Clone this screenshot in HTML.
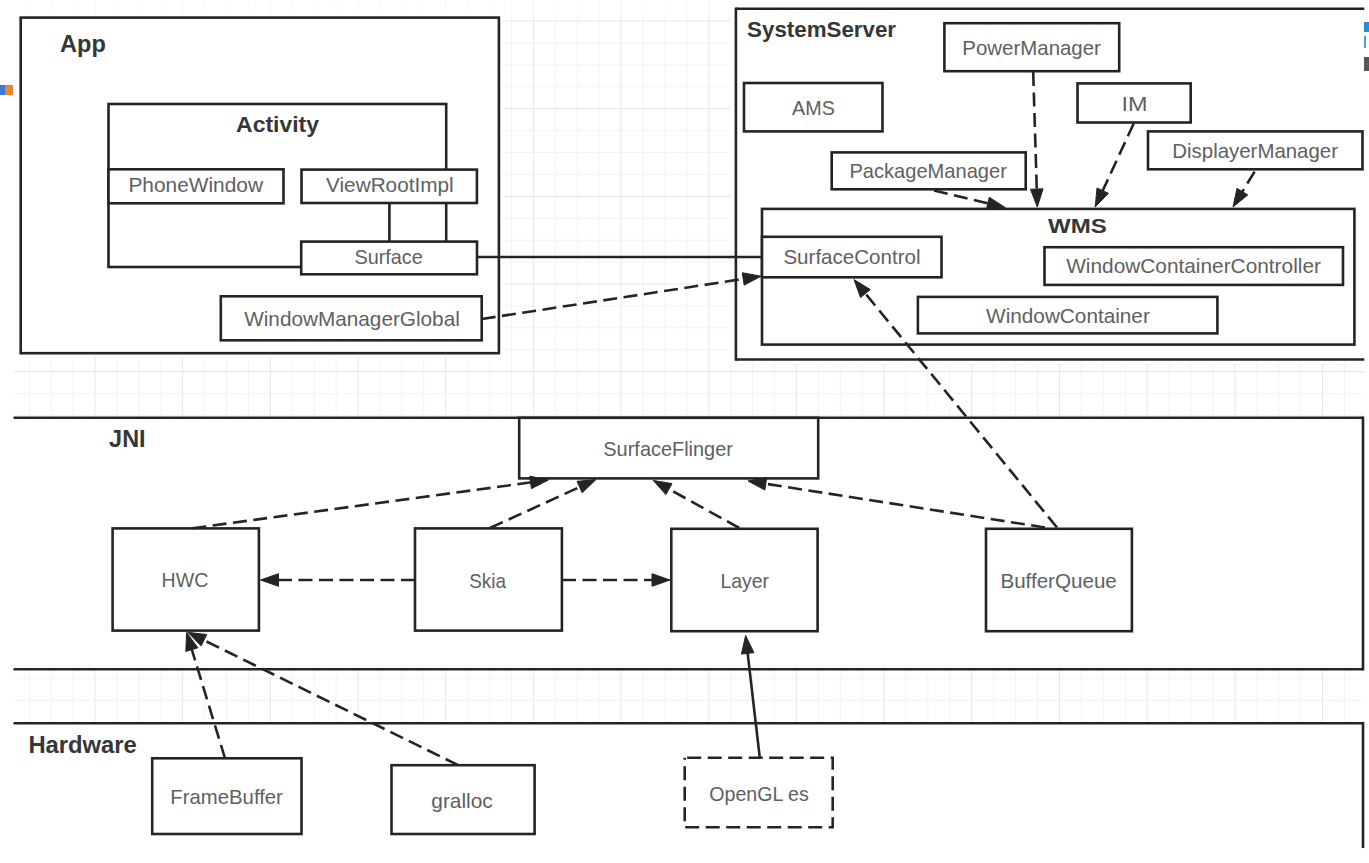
<!DOCTYPE html>
<html><head><meta charset="utf-8"><title>diagram</title>
<style>html,body{margin:0;padding:0;background:#fff;width:1369px;height:863px;overflow:hidden;}
svg{display:block;font-family:"Liberation Sans",sans-serif;}</style></head>
<body><svg width="1369" height="863" viewBox="0 0 1369 863" font-family="Liberation Sans, sans-serif"><g stroke="#f3f3f3" stroke-width="1"><line x1="29.22" y1="0" x2="29.22" y2="863"/><line x1="51.14" y1="0" x2="51.14" y2="863"/><line x1="73.06" y1="0" x2="73.06" y2="863"/><line x1="116.90" y1="0" x2="116.90" y2="863"/><line x1="138.82" y1="0" x2="138.82" y2="863"/><line x1="160.74" y1="0" x2="160.74" y2="863"/><line x1="204.58" y1="0" x2="204.58" y2="863"/><line x1="226.50" y1="0" x2="226.50" y2="863"/><line x1="248.42" y1="0" x2="248.42" y2="863"/><line x1="292.26" y1="0" x2="292.26" y2="863"/><line x1="314.18" y1="0" x2="314.18" y2="863"/><line x1="336.10" y1="0" x2="336.10" y2="863"/><line x1="379.94" y1="0" x2="379.94" y2="863"/><line x1="401.86" y1="0" x2="401.86" y2="863"/><line x1="423.78" y1="0" x2="423.78" y2="863"/><line x1="467.62" y1="0" x2="467.62" y2="863"/><line x1="489.54" y1="0" x2="489.54" y2="863"/><line x1="511.46" y1="0" x2="511.46" y2="863"/><line x1="555.30" y1="0" x2="555.30" y2="863"/><line x1="577.22" y1="0" x2="577.22" y2="863"/><line x1="599.14" y1="0" x2="599.14" y2="863"/><line x1="642.98" y1="0" x2="642.98" y2="863"/><line x1="664.90" y1="0" x2="664.90" y2="863"/><line x1="686.82" y1="0" x2="686.82" y2="863"/><line x1="730.66" y1="0" x2="730.66" y2="863"/><line x1="752.58" y1="0" x2="752.58" y2="863"/><line x1="774.50" y1="0" x2="774.50" y2="863"/><line x1="818.34" y1="0" x2="818.34" y2="863"/><line x1="840.26" y1="0" x2="840.26" y2="863"/><line x1="862.18" y1="0" x2="862.18" y2="863"/><line x1="906.02" y1="0" x2="906.02" y2="863"/><line x1="927.94" y1="0" x2="927.94" y2="863"/><line x1="949.86" y1="0" x2="949.86" y2="863"/><line x1="993.70" y1="0" x2="993.70" y2="863"/><line x1="1015.62" y1="0" x2="1015.62" y2="863"/><line x1="1037.54" y1="0" x2="1037.54" y2="863"/><line x1="1081.38" y1="0" x2="1081.38" y2="863"/><line x1="1103.30" y1="0" x2="1103.30" y2="863"/><line x1="1125.22" y1="0" x2="1125.22" y2="863"/><line x1="1169.06" y1="0" x2="1169.06" y2="863"/><line x1="1190.98" y1="0" x2="1190.98" y2="863"/><line x1="1212.90" y1="0" x2="1212.90" y2="863"/><line x1="1256.74" y1="0" x2="1256.74" y2="863"/><line x1="1278.66" y1="0" x2="1278.66" y2="863"/><line x1="1300.58" y1="0" x2="1300.58" y2="863"/><line x1="1344.42" y1="0" x2="1344.42" y2="863"/><line x1="1366.34" y1="0" x2="1366.34" y2="863"/><line x1="14" y1="-0.92" x2="1369" y2="-0.92"/><line x1="14" y1="42.92" x2="1369" y2="42.92"/><line x1="14" y1="64.84" x2="1369" y2="64.84"/><line x1="14" y1="86.76" x2="1369" y2="86.76"/><line x1="14" y1="130.60" x2="1369" y2="130.60"/><line x1="14" y1="152.52" x2="1369" y2="152.52"/><line x1="14" y1="174.44" x2="1369" y2="174.44"/><line x1="14" y1="218.28" x2="1369" y2="218.28"/><line x1="14" y1="240.20" x2="1369" y2="240.20"/><line x1="14" y1="262.12" x2="1369" y2="262.12"/><line x1="14" y1="305.96" x2="1369" y2="305.96"/><line x1="14" y1="327.88" x2="1369" y2="327.88"/><line x1="14" y1="349.80" x2="1369" y2="349.80"/><line x1="14" y1="393.64" x2="1369" y2="393.64"/><line x1="14" y1="415.56" x2="1369" y2="415.56"/><line x1="14" y1="437.48" x2="1369" y2="437.48"/><line x1="14" y1="481.32" x2="1369" y2="481.32"/><line x1="14" y1="503.24" x2="1369" y2="503.24"/><line x1="14" y1="525.16" x2="1369" y2="525.16"/><line x1="14" y1="569.00" x2="1369" y2="569.00"/><line x1="14" y1="590.92" x2="1369" y2="590.92"/><line x1="14" y1="612.84" x2="1369" y2="612.84"/><line x1="14" y1="656.68" x2="1369" y2="656.68"/><line x1="14" y1="678.60" x2="1369" y2="678.60"/><line x1="14" y1="700.52" x2="1369" y2="700.52"/><line x1="14" y1="744.36" x2="1369" y2="744.36"/><line x1="14" y1="766.28" x2="1369" y2="766.28"/><line x1="14" y1="788.20" x2="1369" y2="788.20"/><line x1="14" y1="832.04" x2="1369" y2="832.04"/><line x1="14" y1="853.96" x2="1369" y2="853.96"/></g><g stroke="#e6e6e6" stroke-width="1"><line x1="94.98" y1="0" x2="94.98" y2="863"/><line x1="182.66" y1="0" x2="182.66" y2="863"/><line x1="270.34" y1="0" x2="270.34" y2="863"/><line x1="358.02" y1="0" x2="358.02" y2="863"/><line x1="445.70" y1="0" x2="445.70" y2="863"/><line x1="533.38" y1="0" x2="533.38" y2="863"/><line x1="621.06" y1="0" x2="621.06" y2="863"/><line x1="708.74" y1="0" x2="708.74" y2="863"/><line x1="796.42" y1="0" x2="796.42" y2="863"/><line x1="884.10" y1="0" x2="884.10" y2="863"/><line x1="971.78" y1="0" x2="971.78" y2="863"/><line x1="1059.46" y1="0" x2="1059.46" y2="863"/><line x1="1147.14" y1="0" x2="1147.14" y2="863"/><line x1="1234.82" y1="0" x2="1234.82" y2="863"/><line x1="1322.50" y1="0" x2="1322.50" y2="863"/><line x1="14" y1="21.00" x2="1369" y2="21.00"/><line x1="14" y1="108.68" x2="1369" y2="108.68"/><line x1="14" y1="196.36" x2="1369" y2="196.36"/><line x1="14" y1="284.04" x2="1369" y2="284.04"/><line x1="14" y1="371.72" x2="1369" y2="371.72"/><line x1="14" y1="459.40" x2="1369" y2="459.40"/><line x1="14" y1="547.08" x2="1369" y2="547.08"/><line x1="14" y1="634.76" x2="1369" y2="634.76"/><line x1="14" y1="722.44" x2="1369" y2="722.44"/><line x1="14" y1="810.12" x2="1369" y2="810.12"/></g>
<rect x="0" y="0" width="20" height="357" fill="#fff"/>
<rect x="736" y="0" width="640" height="9" fill="#fff"/>
<rect x="20" y="0" width="716" height="16" fill="#fff" fill-opacity="0.55"/>
<rect x="1364" y="357" width="10" height="510" fill="#fff"/>
<rect x="16" y="13" width="487.5" height="344" fill="#fff"/>
<rect x="730.5" y="0" width="640" height="363.5" fill="#fff"/>
<rect x="13.5" y="417.8" width="1349.1" height="251.40000000000003" fill="#fff"/>
<rect x="13.5" y="723.2" width="1349.1" height="144.79999999999995" fill="#fff"/>
<rect x="735.9" y="8.8" width="638.1" height="350.7" fill="#fff"/>
<rect x="20.70" y="17.60" width="478.20" height="335.60" fill="#fff" stroke="#242424" stroke-width="2.6"/>
<text x="60.08" y="52.30" font-size="23" font-weight="bold" fill="#363636" textLength="45.76" lengthAdjust="spacingAndGlyphs">App</text>
<rect x="108.50" y="104.00" width="337.70" height="163.00" fill="#fff" stroke="#242424" stroke-width="2.6"/>
<text x="236.08" y="132.40" font-size="22" font-weight="bold" fill="#363636" textLength="82.84" lengthAdjust="spacingAndGlyphs">Activity</text>
<rect x="108.50" y="169.30" width="175.00" height="34.00" fill="#fff" stroke="#242424" stroke-width="2.6"/>
<text x="128.44" y="192.30" font-size="21" font-weight="normal" fill="#606060" textLength="134.58" lengthAdjust="spacingAndGlyphs">PhoneWindow</text>
<rect x="301.50" y="169.60" width="175.40" height="33.40" fill="#fff" stroke="#242424" stroke-width="2.6"/>
<text x="326.06" y="192.30" font-size="21" font-weight="normal" fill="#606060" textLength="127.60" lengthAdjust="spacingAndGlyphs">ViewRootImpl</text>
<line x1="389.40" y1="203.00" x2="389.40" y2="241.60" stroke="#242424" stroke-width="2.6"/>
<rect x="301.20" y="241.60" width="175.80" height="32.70" fill="#fff" stroke="#242424" stroke-width="2.6"/>
<text x="354.40" y="264.30" font-size="21" font-weight="normal" fill="#606060" textLength="68.40" lengthAdjust="spacingAndGlyphs">Surface</text>
<rect x="220.80" y="296.30" width="260.90" height="44.00" fill="#fff" stroke="#242424" stroke-width="2.6"/>
<text x="244.18" y="325.50" font-size="21" font-weight="normal" fill="#606060" textLength="215.62" lengthAdjust="spacingAndGlyphs">WindowManagerGlobal</text>
<line x1="735.90" y1="8.80" x2="1364.30" y2="8.80" stroke="#242424" stroke-width="2.6"/>
<line x1="735.90" y1="7.50" x2="735.90" y2="360.80" stroke="#242424" stroke-width="2.6"/>
<line x1="735.90" y1="359.50" x2="1364.30" y2="359.50" stroke="#242424" stroke-width="2.6"/>
<text x="747.12" y="37.30" font-size="22.5" font-weight="bold" fill="#363636" textLength="148.88" lengthAdjust="spacingAndGlyphs">SystemServer</text>
<rect x="744.00" y="83.00" width="138.50" height="48.40" fill="#fff" stroke="#242424" stroke-width="2.6"/>
<text x="792.10" y="115.00" font-size="21" font-weight="normal" fill="#606060" textLength="42.70" lengthAdjust="spacingAndGlyphs">AMS</text>
<rect x="944.40" y="23.20" width="174.80" height="48.00" fill="#fff" stroke="#242424" stroke-width="2.6"/>
<text x="962.34" y="55.40" font-size="21" font-weight="normal" fill="#606060" textLength="138.58" lengthAdjust="spacingAndGlyphs">PowerManager</text>
<rect x="1077.50" y="83.40" width="113.20" height="39.10" fill="#fff" stroke="#242424" stroke-width="2.6"/>
<text x="1121.48" y="110.60" font-size="21" font-weight="normal" fill="#606060" textLength="26.02" lengthAdjust="spacingAndGlyphs">IM</text>
<rect x="831.70" y="152.40" width="194.00" height="36.90" fill="#fff" stroke="#242424" stroke-width="2.6"/>
<text x="849.38" y="178.10" font-size="21" font-weight="normal" fill="#606060" textLength="157.50" lengthAdjust="spacingAndGlyphs">PackageManager</text>
<rect x="1148.00" y="131.40" width="214.50" height="37.90" fill="#fff" stroke="#242424" stroke-width="2.6"/>
<text x="1172.34" y="157.80" font-size="21" font-weight="normal" fill="#606060" textLength="165.66" lengthAdjust="spacingAndGlyphs">DisplayerManager</text>
<rect x="762.00" y="208.90" width="592.40" height="135.70" fill="#fff" stroke="#242424" stroke-width="2.6"/>
<text x="1048.10" y="232.90" font-size="20" font-weight="bold" fill="#363636" textLength="58.68" lengthAdjust="spacingAndGlyphs">WMS</text>
<rect x="762.00" y="236.80" width="179.50" height="40.50" fill="#fff" stroke="#242424" stroke-width="2.6"/>
<text x="783.38" y="264.20" font-size="21" font-weight="normal" fill="#606060" textLength="137.18" lengthAdjust="spacingAndGlyphs">SurfaceControl</text>
<rect x="1044.50" y="247.20" width="298.50" height="37.70" fill="#fff" stroke="#242424" stroke-width="2.6"/>
<text x="1066.16" y="273.30" font-size="21" font-weight="normal" fill="#606060" textLength="254.78" lengthAdjust="spacingAndGlyphs">WindowContainerController</text>
<rect x="917.90" y="296.90" width="299.50" height="36.50" fill="#fff" stroke="#242424" stroke-width="2.6"/>
<text x="986.08" y="322.70" font-size="21" font-weight="normal" fill="#606060" textLength="163.74" lengthAdjust="spacingAndGlyphs">WindowContainer</text>
<line x1="934.00" y1="190.50" x2="988.77" y2="203.64" stroke="#242424" stroke-width="2.6" stroke-dasharray="14 6.5"/>
<path d="M1005.30,207.60 L986.33,209.53 L989.27,197.28 Z" fill="#242424" stroke="#242424" stroke-width="1" stroke-linejoin="miter"/>
<line x1="1033.20" y1="72.00" x2="1036.78" y2="190.01" stroke="#242424" stroke-width="2.6" stroke-dasharray="14 6.5"/>
<path d="M1037.30,207.00 L1030.46,189.20 L1043.05,188.82 Z" fill="#242424" stroke="#242424" stroke-width="1" stroke-linejoin="miter"/>
<line x1="1133.70" y1="123.50" x2="1102.32" y2="191.56" stroke="#242424" stroke-width="2.6" stroke-dasharray="14 6.5"/>
<path d="M1095.20,207.00 L1097.02,188.02 L1108.46,193.29 Z" fill="#242424" stroke="#242424" stroke-width="1" stroke-linejoin="miter"/>
<line x1="1254.60" y1="171.60" x2="1241.85" y2="192.49" stroke="#242424" stroke-width="2.6" stroke-dasharray="14 6.5"/>
<path d="M1233.00,207.00 L1237.00,188.35 L1247.75,194.92 Z" fill="#242424" stroke="#242424" stroke-width="1" stroke-linejoin="miter"/>
<line x1="13.50" y1="417.80" x2="1363.00" y2="417.80" stroke="#242424" stroke-width="2.6"/>
<line x1="13.50" y1="669.20" x2="1363.00" y2="669.20" stroke="#242424" stroke-width="2.6"/>
<line x1="1363.00" y1="416.50" x2="1363.00" y2="670.50" stroke="#242424" stroke-width="2.6"/>
<text x="109.12" y="447.00" font-size="23.5" font-weight="bold" fill="#363636" textLength="36.48" lengthAdjust="spacingAndGlyphs">JNI</text>
<rect x="519.20" y="417.80" width="299.00" height="60.60" fill="#fff" stroke="#242424" stroke-width="2.6"/>
<text x="603.34" y="456.00" font-size="21" font-weight="normal" fill="#606060" textLength="129.60" lengthAdjust="spacingAndGlyphs">SurfaceFlinger</text>
<rect x="112.60" y="528.40" width="146.30" height="102.20" fill="#fff" stroke="#242424" stroke-width="2.6"/>
<text x="161.54" y="587.40" font-size="21" font-weight="normal" fill="#606060" textLength="46.74" lengthAdjust="spacingAndGlyphs">HWC</text>
<rect x="415.00" y="528.40" width="146.90" height="102.20" fill="#fff" stroke="#242424" stroke-width="2.6"/>
<text x="469.24" y="587.60" font-size="21" font-weight="normal" fill="#606060" textLength="36.70" lengthAdjust="spacingAndGlyphs">Skia</text>
<rect x="671.30" y="528.80" width="146.30" height="102.40" fill="#fff" stroke="#242424" stroke-width="2.6"/>
<text x="720.44" y="587.70" font-size="21" font-weight="normal" fill="#606060" textLength="48.64" lengthAdjust="spacingAndGlyphs">Layer</text>
<rect x="986.00" y="528.80" width="145.90" height="102.40" fill="#fff" stroke="#242424" stroke-width="2.6"/>
<text x="1000.40" y="588.00" font-size="21" font-weight="normal" fill="#606060" textLength="116.40" lengthAdjust="spacingAndGlyphs">BufferQueue</text>
<line x1="192.30" y1="528.30" x2="531.55" y2="482.28" stroke="#242424" stroke-width="2.6" stroke-dasharray="14 6.5"/>
<path d="M548.40,480.00 L531.41,488.66 L529.72,476.18 Z" fill="#242424" stroke="#242424" stroke-width="1" stroke-linejoin="miter"/>
<line x1="490.00" y1="528.00" x2="580.54" y2="486.66" stroke="#242424" stroke-width="2.6" stroke-dasharray="14 6.5"/>
<path d="M596.00,479.60 L582.24,492.81 L577.01,481.35 Z" fill="#242424" stroke="#242424" stroke-width="1" stroke-linejoin="miter"/>
<line x1="739.30" y1="528.00" x2="668.08" y2="488.63" stroke="#242424" stroke-width="2.6" stroke-dasharray="14 6.5"/>
<path d="M653.20,480.40 L672.00,483.60 L665.90,494.62 Z" fill="#242424" stroke="#242424" stroke-width="1" stroke-linejoin="miter"/>
<line x1="1045.00" y1="527.50" x2="764.80" y2="483.63" stroke="#242424" stroke-width="2.6" stroke-dasharray="14 6.5"/>
<path d="M748.00,481.00 L766.76,477.56 L764.81,490.01 Z" fill="#242424" stroke="#242424" stroke-width="1" stroke-linejoin="miter"/>
<line x1="415.00" y1="580.00" x2="277.50" y2="580.00" stroke="#242424" stroke-width="2.6" stroke-dasharray="14 6.5"/>
<path d="M260.50,580.00 L278.50,573.70 L278.50,586.30 Z" fill="#242424" stroke="#242424" stroke-width="1" stroke-linejoin="miter"/>
<line x1="562.00" y1="580.00" x2="653.00" y2="580.00" stroke="#242424" stroke-width="2.6" stroke-dasharray="14 6.5"/>
<path d="M670.00,580.00 L652.00,586.30 L652.00,573.70 Z" fill="#242424" stroke="#242424" stroke-width="1" stroke-linejoin="miter"/>
<line x1="13.50" y1="723.20" x2="1363.00" y2="723.20" stroke="#242424" stroke-width="2.6"/>
<line x1="1363.00" y1="721.90" x2="1363.00" y2="848.00" stroke="#242424" stroke-width="2.6"/>
<text x="28.40" y="752.60" font-size="24" font-weight="bold" fill="#363636" textLength="108.46" lengthAdjust="spacingAndGlyphs">Hardware</text>
<rect x="152.20" y="758.30" width="149.30" height="75.70" fill="#fff" stroke="#242424" stroke-width="2.6"/>
<text x="170.36" y="804.00" font-size="21" font-weight="normal" fill="#606060" textLength="112.50" lengthAdjust="spacingAndGlyphs">FrameBuffer</text>
<rect x="391.50" y="765.20" width="143.10" height="68.80" fill="#fff" stroke="#242424" stroke-width="2.6"/>
<text x="431.28" y="808.20" font-size="21" font-weight="normal" fill="#606060" textLength="61.54" lengthAdjust="spacingAndGlyphs">gralloc</text>
<rect x="684.70" y="757.80" width="148.00" height="69.50" fill="#fff" stroke="#242424" stroke-width="2.6" stroke-dasharray="14 6.5" stroke-dashoffset="-2.5"/>
<text x="709.24" y="800.50" font-size="21" font-weight="normal" fill="#606060" textLength="99.56" lengthAdjust="spacingAndGlyphs">OpenGL es</text>
<line x1="225.00" y1="758.30" x2="191.56" y2="648.66" stroke="#242424" stroke-width="2.6" stroke-dasharray="14 6.5"/>
<path d="M186.60,632.40 L197.88,647.78 L185.83,651.45 Z" fill="#242424" stroke="#242424" stroke-width="1" stroke-linejoin="miter"/>
<line x1="458.20" y1="765.20" x2="203.06" y2="639.80" stroke="#242424" stroke-width="2.6" stroke-dasharray="14 6.5"/>
<path d="M187.80,632.30 L206.73,634.59 L201.18,645.89 Z" fill="#242424" stroke="#242424" stroke-width="1" stroke-linejoin="miter"/>
<line x1="759.70" y1="757.20" x2="747.56" y2="652.39" stroke="#242424" stroke-width="2.6"/>
<path d="M745.60,635.50 L753.93,652.66 L741.41,654.11 Z" fill="#242424" stroke="#242424" stroke-width="1" stroke-linejoin="miter"/>
<line x1="477.00" y1="257.00" x2="762.00" y2="257.00" stroke="#242424" stroke-width="2.6"/>
<line x1="481.70" y1="319.00" x2="744.20" y2="278.78" stroke="#242424" stroke-width="2.6" stroke-dasharray="14 6.5"/>
<path d="M761.00,276.20 L744.16,285.15 L742.25,272.70 Z" fill="#242424" stroke="#242424" stroke-width="1" stroke-linejoin="miter"/>
<line x1="1057.00" y1="527.50" x2="864.77" y2="292.75" stroke="#242424" stroke-width="2.6" stroke-dasharray="14 6.5"/>
<path d="M854.00,279.60 L870.28,289.54 L860.53,297.52 Z" fill="#242424" stroke="#242424" stroke-width="1" stroke-linejoin="miter"/>
<rect x="0" y="85" width="5" height="10" fill="#3b78d8"/><rect x="5" y="85" width="8" height="10" fill="#f0822f"/>
<rect x="1364" y="22" width="5" height="10" fill="#1e90e8"/><rect x="1364" y="36" width="2" height="12" fill="#4a9be0"/><rect x="1364" y="57" width="5" height="14" fill="#555"/></svg></body></html>
